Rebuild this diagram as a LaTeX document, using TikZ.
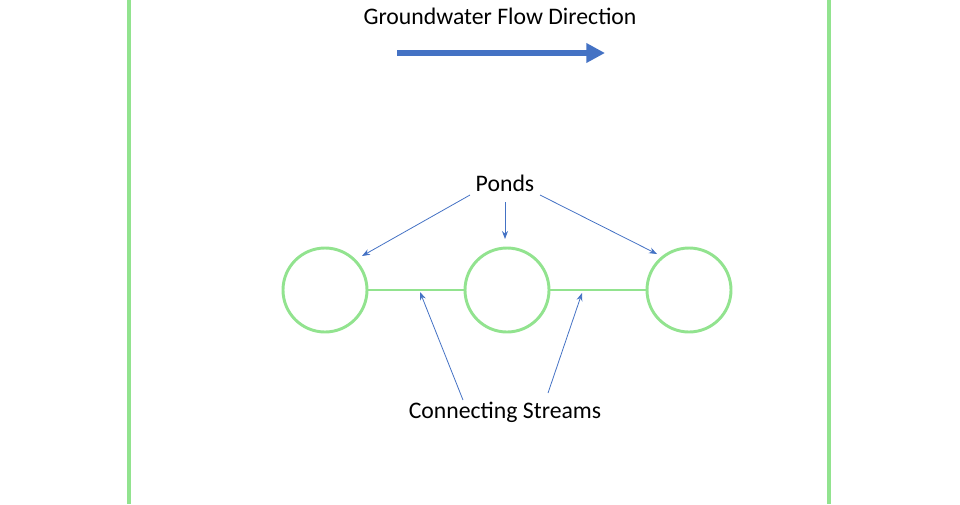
\documentclass[tikz,border=0pt]{standalone}
\usepackage{fontspec}
\setmainfont{Carlito}
\usetikzlibrary{arrows.meta}
\definecolor{grn}{HTML}{92E38F}
\definecolor{blu}{HTML}{4472C4}
\begin{document}
\begin{tikzpicture}[x=0.75pt,y=-0.75pt,
  pond/.style={circle,draw=grn,line width=2.2pt,minimum size=63pt,inner sep=0pt},
  lbl/.style={font=\fontsize{17.8}{20}\selectfont},
  ptr/.style={draw=blu,line width=0.6pt,-{Stealth[length=6pt,width=4.5pt]}}]
\useasboundingbox (0,0) rectangle (960,504);
\draw[grn,line width=2.6pt] (129,0) coordinate (t1) -- (129,504) coordinate (b1);
\draw[grn,line width=2.6pt] (829,0) coordinate (t2) -- (829,504) coordinate (b2);
\node[lbl] (gw) at (500,16) {Groundwater Flow Direction};
\coordinate (a1) at (397,53); \coordinate (a2) at (605,53);
\draw[blu,line width=4.5pt,-{Triangle[length=14pt,width=14pt]}] (a1) -- (a2);
\node[pond] (p1) at (325,290) {};
\node[pond] (p2) at (507,290) {};
\node[pond] (p3) at (689,290) {};
\draw[grn,line width=2pt] (p1) -- (p2);
\draw[grn,line width=2pt] (p2) -- (p3);
\node[lbl] (ponds) at (505,183) {Ponds};
\node[lbl] (cs) at (505,412) {Connecting Streams};
\coordinate (e1) at (362,256); \coordinate (e2) at (505,239); \coordinate (e3) at (657,254);
\coordinate (s1) at (420,292); \coordinate (s2) at (582,293);
\draw[ptr] (470,195) -- (e1);
\draw[ptr] (505,202) -- (e2);
\draw[ptr] (540,195) -- (e3);
\draw[ptr] (463,400) -- (s1);
\draw[ptr] (548,393) -- (s2);
\end{tikzpicture}
\end{document}
